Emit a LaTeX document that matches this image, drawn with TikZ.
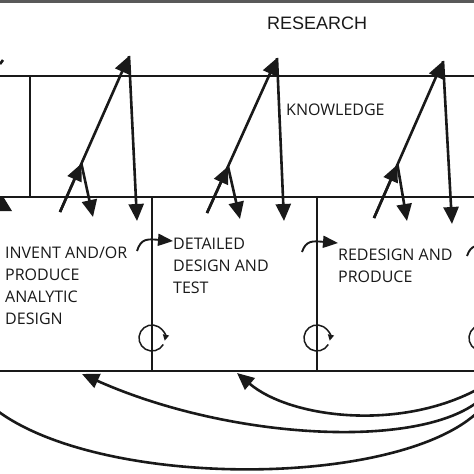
\documentclass[tikz,border=0pt]{standalone}
\usepackage{fontspec}
\setmainfont{Open Sans}
\newfontfamily\arialf{Liberation Sans}
\usetikzlibrary{arrows.meta,calc}
\tikzset{
  frame/.style={line width=2.1pt, black!90},
  divider/.style={line width=1.5pt, black!90},
  flow/.style={line width=2.6pt, black!90, -{Triangle[length=17pt,width=15pt]}},
  flowline/.style={line width=2.6pt, black!90},
  curl/.style={line width=1.9pt, black!90, -{Triangle[length=15pt,width=12pt]}},
  cyc/.style={line width=1.5pt, black!90, -{Triangle[length=6pt,width=6pt]}},
  lbl/.style={inner sep=0pt, font=\fontsize{16}{22}\selectfont, align=left, anchor=base west, text=black!90},
}
\begin{document}
\begin{tikzpicture}[x=1pt,y=-1pt]
\useasboundingbox (0,0) rectangle (474,474);
\clip (0,0) rectangle (474,474);
\fill[white] (0,0) rectangle (474,474);
\fill[black!65] (0,0) rectangle (474,2.5);

% frame lines
\coordinate (hl1) at (0,76);  \coordinate (hr1) at (474,76);
\coordinate (hl2) at (0,197); \coordinate (hr2) at (474,197);
\coordinate (hl3) at (0,371); \coordinate (hr3) at (474,371);
\draw[frame] (hl1) -- (hr1);
\draw[frame] (hl2) -- (hr2);
\draw[frame] (hl3) -- (hr3);
\coordinate (v0a) at (30,76); \coordinate (v0b) at (30,197);
\draw[divider] (v0a) -- (v0b);
\foreach \bx in {152,317,482}{
  \coordinate (va) at (\bx,197); \coordinate (vb) at (\bx,371);
  \draw[divider] (va) -- (vb);
  % cycle symbol
  \draw[cyc] (\bx,338) ++(-330:13) arc[start angle=-330, end angle=12, radius=13];
}
% curl arrows
\foreach \bx/\ya/\yb in {152/251/241, 317/252/243, 482/256/247}{
  \coordinate (ca) at (\bx-15,\ya);
  \coordinate (cb) at (\bx+21,\yb);
  \draw[curl] (ca) .. controls (\bx-11,\yb-3) and (\bx-4,\yb-2) .. (cb);
}

% knowledge arrow groups
\foreach \sx/\sy/\tx/\ty/\dx/\dy/\ex/\ey/\f in {60/212/129/56/137/221/93/217/0.31, 207/213/277/58/284/221/240/219/0.30, 374/218/443/61/452/224/407/221/0.34}{
  \coordinate (s) at (\sx,\sy);
  \coordinate (t) at (\tx,\ty);
  \coordinate (d) at (\dx,\dy);
  \coordinate (e) at (\ex,\ey);
  \coordinate (m) at ($(s)!\f!(t)$);
  \draw[flow] (s) -- (t);
  \draw[flow] (s) -- (m);
  \draw[flow] (t) -- (d);
  \draw[flow] (m) -- (e);
}
% partial fragments at the edges
\fill[black!90] (0,198) -- (4,198) -- (12,211) -- (0,211) -- cycle;
\coordinate (fa) at (0,64); \coordinate (fb) at (3,60);
\draw[flowline] (fa) -- (fb);

% feedback curves
\coordinate (b1s) at (480,388); \coordinate (b1e) at (237,373);
\coordinate (b2s) at (480,400); \coordinate (b2e) at (82,374);
\coordinate (b3s) at (480,410); \coordinate (b3e) at (-10,405);
\draw[flow] (b1s) .. controls (400,432) and (290,418) .. (b1e);
\draw[flow] (b2s) .. controls (420,450) and (230,440) .. (b2e);
\draw[flowline] (b3s) .. controls (400,490) and (90,490) .. (b3e);

% labels
\node[inner sep=0pt, anchor=base west, font=\arialf\fontsize{18}{20}\selectfont, text=black!90] (research) at (267,29) {RESEARCH};
\node[lbl] (knowledge) at (286,115) {KNOWLEDGE};
\node[lbl] (invent) at (5,324) {INVENT AND/OR\\PRODUCE\\ANALYTIC\\DESIGN};
\node[lbl] (detailed) at (173,293) {DETAILED\\DESIGN AND\\TEST};
\node[lbl] (redesign) at (338,282) {REDESIGN AND\\PRODUCE};
\end{tikzpicture}
\end{document}
